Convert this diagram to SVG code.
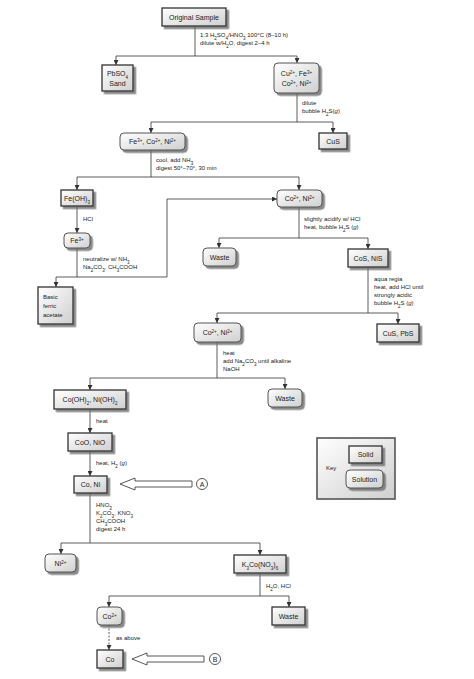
<svg xmlns="http://www.w3.org/2000/svg" width="474" height="679" viewBox="0 0 474 679">
<defs>
<linearGradient id="g" x1="0" y1="0" x2="1" y2="1">
<stop offset="0" stop-color="#ffffff"/>
<stop offset="1" stop-color="#cfcfcf"/>
</linearGradient>
<filter id="sh" x="-20%" y="-20%" width="150%" height="160%">
<feDropShadow dx="2.5" dy="2.5" stdDeviation="0.7" flood-color="#6a6a6a" flood-opacity="0.8"/>
</filter>
<marker id="ah" viewBox="0 0 6 6" refX="6" refY="3" markerWidth="5" markerHeight="5" markerUnits="userSpaceOnUse" orient="auto">
<path d="M0,0 L6,3 L0,6 Z" fill="#333"/>
</marker>
</defs>
<style>
.s{fill:url(#g);stroke:#333;stroke-width:1.3;filter:url(#sh)}
.r{fill:url(#g);stroke:#555;stroke-width:1;filter:url(#sh)}
.t{font-family:"Liberation Sans",Arial,sans-serif;font-size:7px;fill:#222;text-anchor:middle}
.l{font-family:"Liberation Sans",Arial,sans-serif;font-size:6px;fill:#222}
.c{fill:none;stroke:#333;stroke-width:0.8}
.a{marker-end:url(#ah)}
.d{stroke-dasharray:2,1.5}
.h{fill:#fff;stroke:#444;stroke-width:0.9}
.sp{font-size:4.5px;baseline-shift:super}
.sb{font-size:4.5px;baseline-shift:sub}
</style>
<rect width="474" height="679" fill="#fff"/>

<g id="connectors">
<path class="c" d="M195,26 V56"/>
<path class="c" d="M116,56 H297"/>
<path class="c a" d="M116,56 V65"/>
<path class="c a" d="M297,56 V63"/>
<path class="c" d="M297,93 V122"/>
<path class="c" d="M151,122 H333"/>
<path class="c a" d="M151,122 V133"/>
<path class="c a" d="M333,122 V133"/>
<path class="c" d="M151,150 V177"/>
<path class="c" d="M77,177 H299"/>
<path class="c a" d="M77,177 V190"/>
<path class="c a" d="M299,177 V190"/>
<path class="c a" d="M77,206 V233"/>
<path class="c" d="M77,248 V277"/>
<path class="c" d="M56,277 H167"/>
<path class="c a" d="M56,277 V287"/>
<path class="c a" d="M167,277 V199 H277"/>
<path class="c" d="M299,207 V238"/>
<path class="c" d="M219,238 H368"/>
<path class="c a" d="M219,238 V248"/>
<path class="c a" d="M368,238 V249"/>
<path class="c" d="M368,267 V313"/>
<path class="c" d="M217,313 H398"/>
<path class="c a" d="M217,313 V323"/>
<path class="c a" d="M398,313 V324"/>
<path class="c" d="M217,342 V378"/>
<path class="c" d="M90,378 H285"/>
<path class="c a" d="M90,378 V390"/>
<path class="c a" d="M285,378 V389"/>
<path class="c a" d="M90,409 V433"/>
<path class="c a" d="M90,451 V476"/>
<path class="c" d="M90,493 V543"/>
<path class="c" d="M61,543 H260"/>
<path class="c a" d="M61,543 V554"/>
<path class="c a" d="M260,543 V555"/>
<path class="c" d="M260,573 V596"/>
<path class="c" d="M109,596 H289"/>
<path class="c a" d="M109,596 V607"/>
<path class="c a" d="M289,596 V607"/>
<path class="c d a" d="M109,625 V650"/>
<path class="h" d="M120,484 L135,478 V481 H192 V487 H135 V490 Z"/>
<path class="h" d="M132,659 L147,653 V656 H204 V662 H147 V665 Z"/>
<circle cx="202" cy="484" r="5.5" class="h"/>
<text class="t" x="202" y="486.5" font-size="6">A</text>
<circle cx="215" cy="659" r="5.5" class="h"/>
<text class="t" x="215" y="661.5" font-size="6">B</text>
<text class="l" x="200" y="37">1:3 H<tspan class="sb">2</tspan>SO<tspan class="sb">4</tspan>/HNO<tspan class="sb">3</tspan> 100°C (8–10 h)</text>
<text class="l" x="200" y="45">dilute w/H<tspan class="sb">2</tspan>O, digest 2–4 h</text>
<text class="l" x="302" y="105">dilute</text>
<text class="l" x="302" y="113">bubble H<tspan class="sb">2</tspan>S(<tspan font-style="italic">g</tspan>)</text>
<text class="l" x="156" y="162">cool, add NH<tspan class="sb">3</tspan></text>
<text class="l" x="156" y="170">digest 50°–70°, 30 min</text>
<text class="l" x="83" y="221">HCl</text>
<text class="l" x="83" y="261">neutralize w/ NH<tspan class="sb">3</tspan></text>
<text class="l" x="83" y="269">Na<tspan class="sb">2</tspan>CO<tspan class="sb">3</tspan>, CH<tspan class="sb">3</tspan>COOH</text>
<text class="l" x="304" y="221">slightly acidify w/ HCl</text>
<text class="l" x="304" y="229">heat, bubble H<tspan class="sb">2</tspan>S (<tspan font-style="italic">g</tspan>)</text>
<text class="l" x="374" y="281">aqua regia</text>
<text class="l" x="374" y="289">heat, add HCl until</text>
<text class="l" x="374" y="297">strongly acidic</text>
<text class="l" x="374" y="305">bubble H<tspan class="sb">2</tspan>S (<tspan font-style="italic">g</tspan>)</text>
<text class="l" x="223" y="355">heat</text>
<text class="l" x="223" y="363">add Na<tspan class="sb">2</tspan>CO<tspan class="sb">3</tspan> until alkaline</text>
<text class="l" x="223" y="371">NaOH</text>
<text class="l" x="96" y="423">heat</text>
<text class="l" x="96" y="465">heat, H<tspan class="sb">2</tspan> (<tspan font-style="italic">g</tspan>)</text>
<text class="l" x="96" y="507">HNO<tspan class="sb">3</tspan></text>
<text class="l" x="96" y="515">K<tspan class="sb">2</tspan>CO<tspan class="sb">3</tspan>, KNO<tspan class="sb">3</tspan></text>
<text class="l" x="96" y="523">CH<tspan class="sb">3</tspan>COOH</text>
<text class="l" x="96" y="531">digest 24 h</text>
<text class="l" x="266" y="588">H<tspan class="sb">2</tspan>O, HCl</text>
<text class="l" x="116" y="640">as above</text>
</g>

<g id="n-original"><rect class="s" x="162" y="8" width="64" height="18"/><text class="t" x="194" y="19.5">Original Sample</text></g>
<g id="n-pbso4"><rect class="s" x="102" y="65" width="31" height="26"/><text class="t" x="117.5" y="76">PbSO<tspan class="sb">4</tspan></text><text class="t" x="117.5" y="86">Sand</text></g>
<g id="n-cufe"><rect class="r" x="274" y="63" width="45" height="30" rx="4"/><text class="t" x="296.5" y="76">Cu<tspan class="sp">2+</tspan>, Fe<tspan class="sp">3+</tspan></text><text class="t" x="296.5" y="86">Co<tspan class="sp">2+</tspan>, Ni<tspan class="sp">2+</tspan></text></g>
<g id="n-feconi"><rect class="r" x="120" y="133" width="65" height="17" rx="4"/><text class="t" x="152.5" y="144">Fe<tspan class="sp">3+</tspan>, Co<tspan class="sp">2+</tspan>, Ni<tspan class="sp">2+</tspan></text></g>
<g id="n-cus"><rect class="s" x="319" y="133" width="28" height="16"/><text class="t" x="333" y="143.5">CuS</text></g>
<g id="n-feoh3"><rect class="s" x="61" y="190" width="32" height="16"/><text class="t" x="77" y="200.5">Fe(OH)<tspan class="sb">3</tspan></text></g>
<g id="n-coni1"><rect class="r" x="277" y="190" width="45" height="17" rx="4"/><text class="t" x="299.5" y="201">Co<tspan class="sp">2+</tspan>, Ni<tspan class="sp">2+</tspan></text></g>
<g id="n-fe3"><rect class="r" x="64" y="233" width="26" height="15" rx="4"/><text class="t" x="77" y="243">Fe<tspan class="sp">3+</tspan></text></g>
<g id="n-basic"><rect class="s" x="38" y="287" width="35" height="37"/><text class="l" x="43" y="299" font-size="7">Basic</text><text class="l" x="43" y="308" font-size="7">ferric</text><text class="l" x="43" y="317" font-size="7">acetate</text></g>
<g id="n-waste1"><rect class="r" x="203" y="248" width="33" height="18" rx="4"/><text class="t" x="219.5" y="259.5">Waste</text></g>
<g id="n-cosnis"><rect class="s" x="348" y="249" width="40" height="18"/><text class="t" x="368" y="260.5">CoS, NiS</text></g>
<g id="n-coni2"><rect class="r" x="194" y="323" width="47" height="19" rx="4"/><text class="t" x="217.5" y="335">Co<tspan class="sp">2+</tspan>, Ni<tspan class="sp">2+</tspan></text></g>
<g id="n-cuspbs"><rect class="s" x="377" y="324" width="42" height="18"/><text class="t" x="398" y="335.5">CuS, PbS</text></g>
<g id="n-cooh"><rect class="s" x="54" y="390" width="72" height="19"/><text class="t" x="90" y="402">Co(OH)<tspan class="sb">2</tspan>, Ni(OH)<tspan class="sb">2</tspan></text></g>
<g id="n-waste2"><rect class="r" x="268" y="389" width="34" height="18" rx="4"/><text class="t" x="285" y="400.5">Waste</text></g>
<g id="n-coo"><rect class="s" x="68" y="433" width="44" height="18"/><text class="t" x="90" y="444.5">CoO, NiO</text></g>
<g id="n-coni"><rect class="s" x="74" y="476" width="33" height="17"/><text class="t" x="90.5" y="487">Co, Ni</text></g>
<g id="n-ni2"><rect class="r" x="45" y="554" width="31" height="18" rx="4"/><text class="t" x="60.5" y="565.5">Ni<tspan class="sp">2+</tspan></text></g>
<g id="n-k3co"><rect class="s" x="234" y="555" width="52" height="18"/><text class="t" x="260" y="566.5">K<tspan class="sb">3</tspan>Co(NO<tspan class="sb">3</tspan>)<tspan class="sb">6</tspan></text></g>
<g id="n-co2"><rect class="r" x="97" y="607" width="25" height="18" rx="4"/><text class="t" x="109.5" y="618.5">Co<tspan class="sp">2+</tspan></text></g>
<g id="n-waste3"><rect class="s" x="272" y="607" width="33" height="18"/><text class="t" x="288.5" y="618.5">Waste</text></g>
<g id="n-co"><rect class="s" x="97" y="650" width="26" height="18"/><text class="t" x="110" y="661.5">Co</text></g>
<g id="key">
<rect x="317" y="438" width="78" height="61" fill="url(#g)" stroke="#555" stroke-width="1.6"/>
<text class="l" x="326" y="470" font-size="7">Key</text>
<rect class="s" x="349" y="446" width="33" height="17"/><text class="t" x="365.5" y="457">Solid</text>
<rect class="r" x="346" y="470" width="37" height="18" rx="4"/><text class="t" x="364.5" y="481.5">Solution</text>
</g>
</svg>
